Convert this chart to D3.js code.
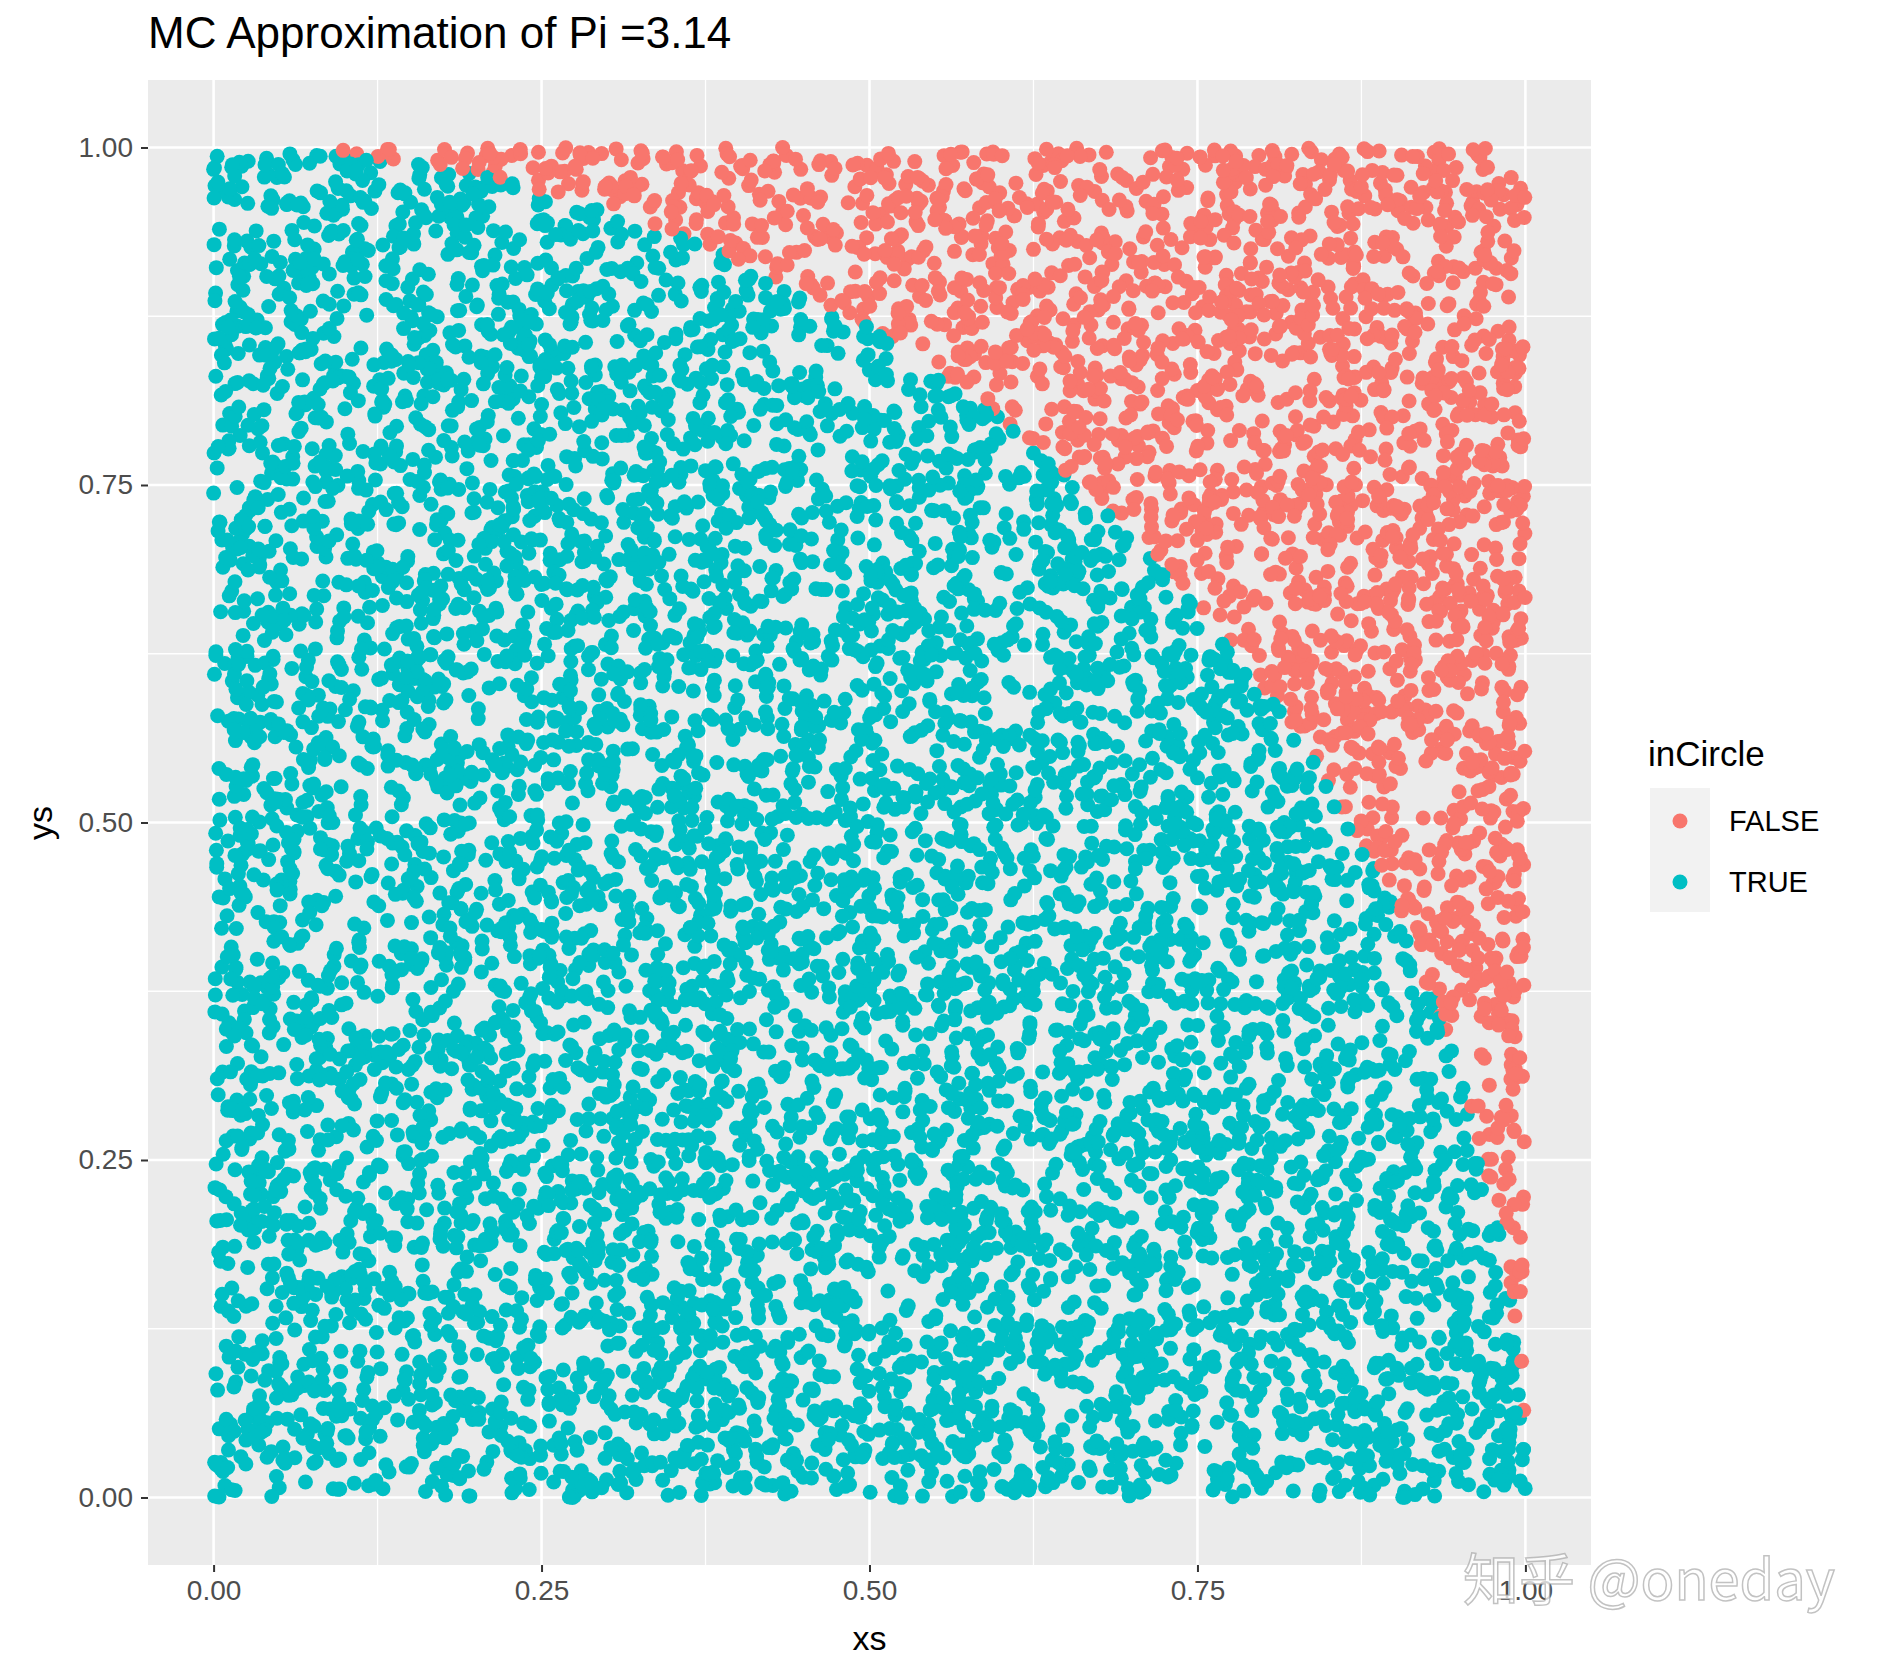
<!DOCTYPE html>
<html><head><meta charset="utf-8">
<script src="https://cdn.jsdelivr.net/npm/d3@7"></script>
<style>body{margin:0;background:#fff}svg{font-family:"Liberation Sans",Arial,sans-serif}</style>
</head><body><svg id="chart" width="1882" height="1664"></svg>
<script>
var width = 1882, height = 1664;

// Values
var title = "MC Approximation of Pi =3.14";
var xTicks = [0, 0.25, 0.5, 0.75, 1];
var yTicks = [0, 0.25, 0.5, 0.75, 1];
var groups = ["FALSE", "TRUE"];
var groupColors = ["#F8766D", "#00BFC4"];
var nPoints = 10000;

// The thousands of individual samples cannot be read off the picture;
// they are a Monte Carlo draw, reproduced here with a fixed seed.
var rand = d3.randomLcg(0.314);
var xs = [], ys = [];
for (var i = 0; i < nPoints; i++) { xs.push(rand()); ys.push(rand()); }

var svg = d3.select("#chart");
var pLeft = 148, pRight = 1591, pTop = 80, pBottom = 1565;

var x = d3.scaleLinear().domain([-0.05, 1.05]).range([pLeft, pRight]);
var y = d3.scaleLinear().domain([-0.05, 1.05]).range([pBottom, pTop]);

svg.append("rect").attr("x", pLeft).attr("y", pTop)
    .attr("width", pRight - pLeft).attr("height", pBottom - pTop).attr("fill", "#EBEBEB");

var minor = [0.125, 0.375, 0.625, 0.875];
minor.forEach(function (v) {
    svg.append("line").attr("x1", x(v)).attr("x2", x(v)).attr("y1", pTop).attr("y2", pBottom)
        .attr("stroke", "#fff").attr("stroke-width", 1.3);
    svg.append("line").attr("y1", y(v)).attr("y2", y(v)).attr("x1", pLeft).attr("x2", pRight)
        .attr("stroke", "#fff").attr("stroke-width", 1.3);
});
xTicks.forEach(function (v) {
    svg.append("line").attr("x1", x(v)).attr("x2", x(v)).attr("y1", pTop).attr("y2", pBottom)
        .attr("stroke", "#fff").attr("stroke-width", 2.6);
});
yTicks.forEach(function (v) {
    svg.append("line").attr("y1", y(v)).attr("y2", y(v)).attr("x1", pLeft).attr("x2", pRight)
        .attr("stroke", "#fff").attr("stroke-width", 2.6);
});

svg.append("g").selectAll("circle")
    .data(d3.range(nPoints))
    .enter().append("circle")
    .attr("cx", function (i) { return x(xs[i]); })
    .attr("cy", function (i) { return y(ys[i]); })
    .attr("r", 7.5)
    .attr("fill", function (i) {
        return xs[i] * xs[i] + ys[i] * ys[i] <= 1 ? groupColors[1] : groupColors[0];
    });

var xAxis = svg.append("g").attr("transform", `translate(0,${pBottom})`)
    .call(d3.axisBottom(x).tickValues(xTicks).tickFormat(d3.format(".2f")).tickSize(7).tickPadding(8));
var yAxis = svg.append("g").attr("transform", `translate(${pLeft},0)`)
    .call(d3.axisLeft(y).tickValues(yTicks).tickFormat(d3.format(".2f")).tickSize(7).tickPadding(8));
[xAxis, yAxis].forEach(function (a) {
    a.select(".domain").remove();
    a.selectAll(".tick line").attr("stroke", "#333").attr("stroke-width", 2);
    a.selectAll("text").attr("fill", "#4d4d4d").style("font-size", "28px")
        .style("font-family", "Liberation Sans, Arial, sans-serif");
});

svg.append("text").attr("x", pLeft).attr("y", 48).attr("font-size", 44).attr("fill", "#000").text(title);
svg.append("text").attr("x", x(0.5)).attr("y", 1650).attr("text-anchor", "middle")
    .attr("font-size", 34).text("xs");
svg.append("text").attr("transform", "translate(52,823) rotate(-90)").attr("text-anchor", "middle")
    .attr("font-size", 34).text("ys");

// Legend
svg.append("text").attr("x", 1648).attr("y", 766).attr("font-size", 35).text("inCircle");
svg.append("rect").attr("x", 1650).attr("y", 788).attr("width", 60).attr("height", 124).attr("fill", "#F2F2F2");
groups.forEach(function (g, k) {
    var cy = 821 + k * 61;
    svg.append("circle").attr("cx", 1680).attr("cy", cy).attr("r", 7.5).attr("fill", groupColors[k]);
    svg.append("text").attr("x", 1729).attr("y", cy + 10).attr("font-size", 29).text(g);
});

// Watermark
svg.append("text").attr("x", 1835).attr("y", 1600).attr("text-anchor", "end")
    .attr("font-size", 56).attr("fill", "#fff").attr("fill-opacity", 0.75)
    .attr("stroke", "#999").attr("stroke-opacity", 0.6).attr("stroke-width", 1.5)
    .style("font-family", "Noto Sans CJK SC, sans-serif").text("知乎 @oneday");
</script></body></html>
